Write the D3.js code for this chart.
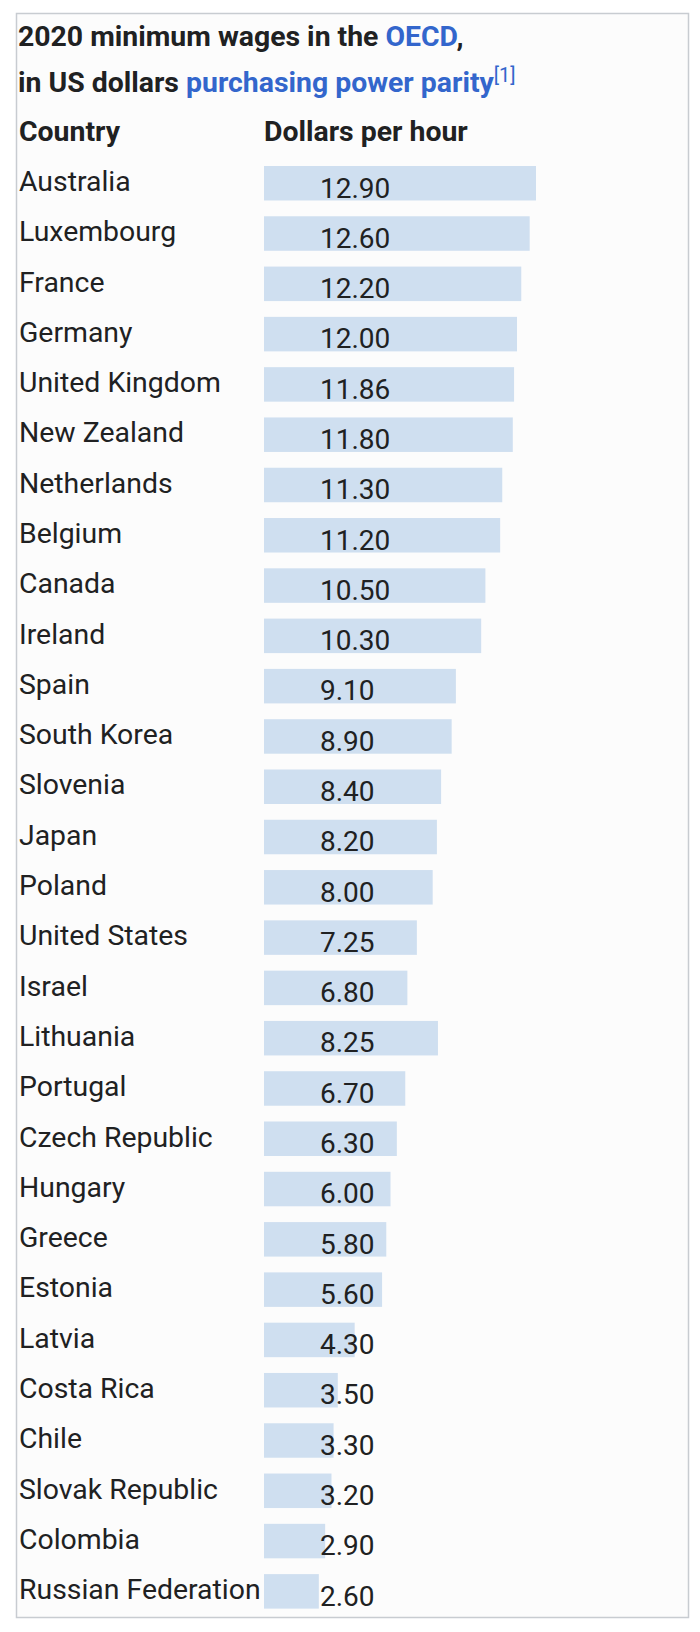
<!DOCTYPE html>
<html>
<head>
<meta charset="utf-8">
<script src="https://cdn.jsdelivr.net/npm/d3@7"></script>
<style>
  body { margin: 0; background: #fff; }
  text { font-family: Roboto, "Noto Sans", sans-serif; fill: #202122; }
  .link { fill: #3366cc; }
</style>
</head>
<body>
<div id="chart"></div>
<script>
const countries = ["Australia", "Luxembourg", "France", "Germany", "United Kingdom",
  "New Zealand", "Netherlands", "Belgium", "Canada", "Ireland", "Spain", "South Korea",
  "Slovenia", "Japan", "Poland", "United States", "Israel", "Lithuania", "Portugal",
  "Czech Republic", "Hungary", "Greece", "Estonia", "Latvia", "Costa Rica", "Chile",
  "Slovak Republic", "Colombia", "Russian Federation"];
const wages = [12.90, 12.60, 12.20, 12.00, 11.86, 11.80, 11.30, 11.20, 10.50, 10.30, 9.10,
  8.90, 8.40, 8.20, 8.00, 7.25, 6.80, 8.25, 6.70, 6.30, 6.00, 5.80, 5.60, 4.30, 3.50, 3.30,
  3.20, 2.90, 2.60];
const columnHeaders = ["Country", "Dollars per hour"];

const width = 700, height = 1632;
const fs = '28.4px';
const rows = countries.map((c, i) => ({ country: c, wage: wages[i] }));

const svg = d3.select('#chart')
  .append('svg')
  .attr('width', width)
  .attr('height', height);

svg.append('rect')
  .attr('width', width).attr('height', height)
  .attr('fill', '#fff');

// table box
svg.append('rect')
  .attr('x', 16.5).attr('y', 13.5)
  .attr('width', 672).attr('height', 1604)
  .attr('fill', '#fcfcfc')
  .attr('stroke', '#c8ccd1')
  .attr('stroke-width', 1.5);

// caption
const t1 = svg.append('text')
  .attr('x', 18).attr('y', 46)
  .style('font-size', fs).style('font-weight', 700);
t1.append('tspan').text('2020 minimum wages in the ');
t1.append('tspan').attr('class', 'link').text('OECD');
t1.append('tspan').text(',');

const t2 = svg.append('text')
  .attr('x', 18).attr('y', 92)
  .style('font-size', fs).style('font-weight', 700);
t2.append('tspan').text('in US dollars ');
t2.append('tspan').attr('class', 'link').text('purchasing power parity');
t2.append('tspan').attr('class', 'link')
  .attr('dy', -10)
  .style('font-size', '20px').style('font-weight', 400)
  .text('[1]');

// column headers
svg.selectAll('text.head')
  .data(columnHeaders)
  .join('text')
  .attr('class', 'head')
  .attr('x', (d, i) => i === 0 ? 19 : 264)
  .attr('y', 141)
  .style('font-size', fs)
  .style('font-weight', 700)
  .text(d => d);

const x = d3.scaleLinear()
  .domain([0, d3.max(wages)])
  .range([264, 536]);

const y = d3.scalePoint()
  .domain(countries)
  .range([166, 166 + 28 * 50.29]);

const barH = 34.5;

const row = svg.append('g')
  .selectAll('g')
  .data(rows)
  .join('g');

row.append('rect')
  .attr('x', x(0))
  .attr('y', d => y(d.country))
  .attr('width', d => x(d.wage) - x(0))
  .attr('height', barH)
  .attr('fill', '#cfdff0');

row.append('text')
  .attr('x', 19)
  .attr('y', d => y(d.country) + 25)
  .style('font-size', fs)
  .text(d => d.country);

row.append('text')
  .attr('x', 320)
  .attr('y', d => y(d.country) + 31.5)
  .style('font-size', '28px')
  .text(d => d3.format('.2f')(d.wage));
</script>
</body>
</html>
